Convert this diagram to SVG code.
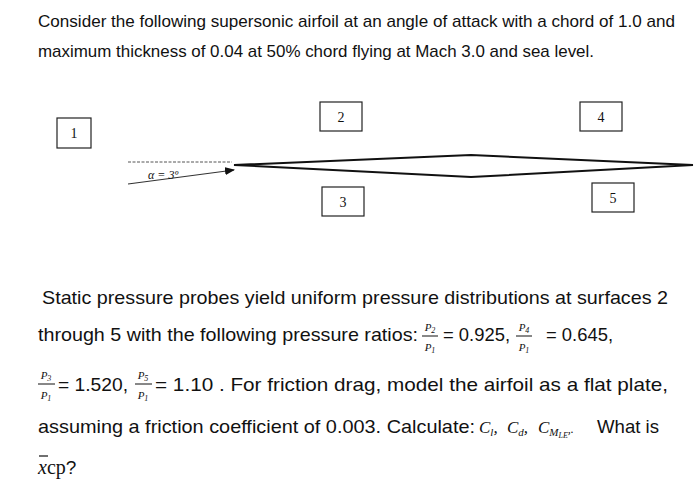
<svg xmlns="http://www.w3.org/2000/svg" width="700" height="486" viewBox="0 0 700 486">
<style>
.t{font-family:"Liberation Sans",Arial,sans-serif;font-size:17px;fill:#111}
.b{font-family:"Liberation Sans",Arial,sans-serif;font-size:19px;fill:#111}
.s{font-family:"Liberation Serif","Times New Roman",serif;font-size:14px;fill:#111}
.m{font-family:"Liberation Serif","Times New Roman",serif;font-style:italic;fill:#111}
.box{fill:#fff;stroke:#222;stroke-width:1.2}
</style>
<defs><marker id="ah" markerWidth="10" markerHeight="8" refX="9" refY="4" orient="auto" markerUnits="userSpaceOnUse"><path d="M0,0 L10,4 L0,8 z" fill="#111"/></marker></defs>
<rect width="700" height="486" fill="#fff"/>
<text class="t" x="38" y="27" textLength="637" lengthAdjust="spacingAndGlyphs">Consider the following supersonic airfoil at an angle of attack with a chord of 1.0 and</text>
<text class="t" x="38" y="57" textLength="556" lengthAdjust="spacingAndGlyphs">maximum thickness of 0.04 at 50% chord flying at Mach 3.0 and sea level.</text>
<g id="n1"><rect class="box" x="57" y="118" width="34" height="30"/><text class="s" x="74" y="138" text-anchor="middle">1</text></g>
<g id="n2"><rect class="box" x="320" y="102" width="42" height="29"/><text class="s" x="341" y="122" text-anchor="middle">2</text></g>
<g id="n4"><rect class="box" x="580" y="102" width="42" height="29"/><text class="s" x="601" y="122" text-anchor="middle">4</text></g>
<g id="n3"><rect class="box" x="322" y="187" width="42" height="29"/><text class="s" x="343" y="207" text-anchor="middle">3</text></g>
<g id="n5"><rect class="box" x="592" y="183" width="42" height="29"/><text class="s" x="613" y="203" text-anchor="middle">5</text></g>
<g id="airfoil"><polygon points="234,165 471,155 693,165 471,177" fill="none" stroke="#111" stroke-width="2"/></g>
<g id="connectors">
<line x1="128" y1="162" x2="232" y2="162" stroke="#555" stroke-width="1" stroke-dasharray="3,1.5"/>
<line x1="128" y1="184" x2="234" y2="170" stroke="#333" stroke-width="1.2" marker-end="url(#ah)"/>
</g>
<text class="m" x="148" y="179" font-size="12">α = 3º</text>
<text class="b" x="42" y="304" textLength="626" lengthAdjust="spacingAndGlyphs">Static pressure probes yield uniform pressure distributions at surfaces 2</text>
<text class="b" x="38" y="341" textLength="380" lengthAdjust="spacingAndGlyphs">through 5 with the following pressure ratios:</text>
<g class="m" font-size="11">
<text x="430" y="331" text-anchor="middle">P<tspan font-size="8" dy="2">2</tspan></text>
<line x1="422" y1="336" x2="438" y2="336" stroke="#111" stroke-width="1"/>
<text x="430" y="351" text-anchor="middle">P<tspan font-size="8" dy="2">1</tspan></text>
<text x="524" y="331" text-anchor="middle">P<tspan font-size="8" dy="2">4</tspan></text>
<line x1="516" y1="336" x2="532" y2="336" stroke="#111" stroke-width="1"/>
<text x="524" y="351" text-anchor="middle">P<tspan font-size="8" dy="2">1</tspan></text>
<text x="46" y="379" text-anchor="middle">P<tspan font-size="8" dy="2">3</tspan></text>
<line x1="38" y1="384" x2="55" y2="384" stroke="#111" stroke-width="1"/>
<text x="46" y="399" text-anchor="middle">P<tspan font-size="8" dy="2">1</tspan></text>
<text x="143" y="379" text-anchor="middle">P<tspan font-size="8" dy="2">5</tspan></text>
<line x1="135" y1="384" x2="152" y2="384" stroke="#111" stroke-width="1"/>
<text x="143" y="399" text-anchor="middle">P<tspan font-size="8" dy="2">1</tspan></text>
</g>
<text class="b" x="443" y="341" textLength="67" lengthAdjust="spacingAndGlyphs">= 0.925,</text>
<text class="b" x="546" y="341" textLength="67" lengthAdjust="spacingAndGlyphs">= 0.645,</text>
<text class="b" x="58" y="391" textLength="70" lengthAdjust="spacingAndGlyphs">= 1.520,</text>
<text class="b" x="155" y="391" textLength="513" lengthAdjust="spacingAndGlyphs">= 1.10 . For friction drag, model the airfoil as a flat plate,</text>
<text class="b" x="38" y="433" textLength="437" lengthAdjust="spacingAndGlyphs">assuming a friction coefficient of 0.003. Calculate:</text>
<g class="m" font-size="17">
<text x="479" y="433">C<tspan font-size="11" dy="3">l</tspan><tspan dy="-3">,</tspan></text>
<text x="507" y="433">C<tspan font-size="11" dy="3">d</tspan><tspan dy="-3">,</tspan></text>
<text x="538" y="433">C<tspan font-size="11" dy="3">M</tspan><tspan font-size="8" dy="2">LE</tspan><tspan dy="-5" font-size="12">,.</tspan></text>
</g>
<text class="b" x="597" y="433" textLength="62" lengthAdjust="spacingAndGlyphs">What is</text>
<text class="m" x="38" y="474" font-size="20">x<tspan font-style="normal">cp</tspan><tspan font-family="Liberation Sans,sans-serif" font-style="normal" font-size="19">?</tspan></text>
<line x1="39" y1="456" x2="48" y2="456" stroke="#111" stroke-width="1.2"/>
</svg>
